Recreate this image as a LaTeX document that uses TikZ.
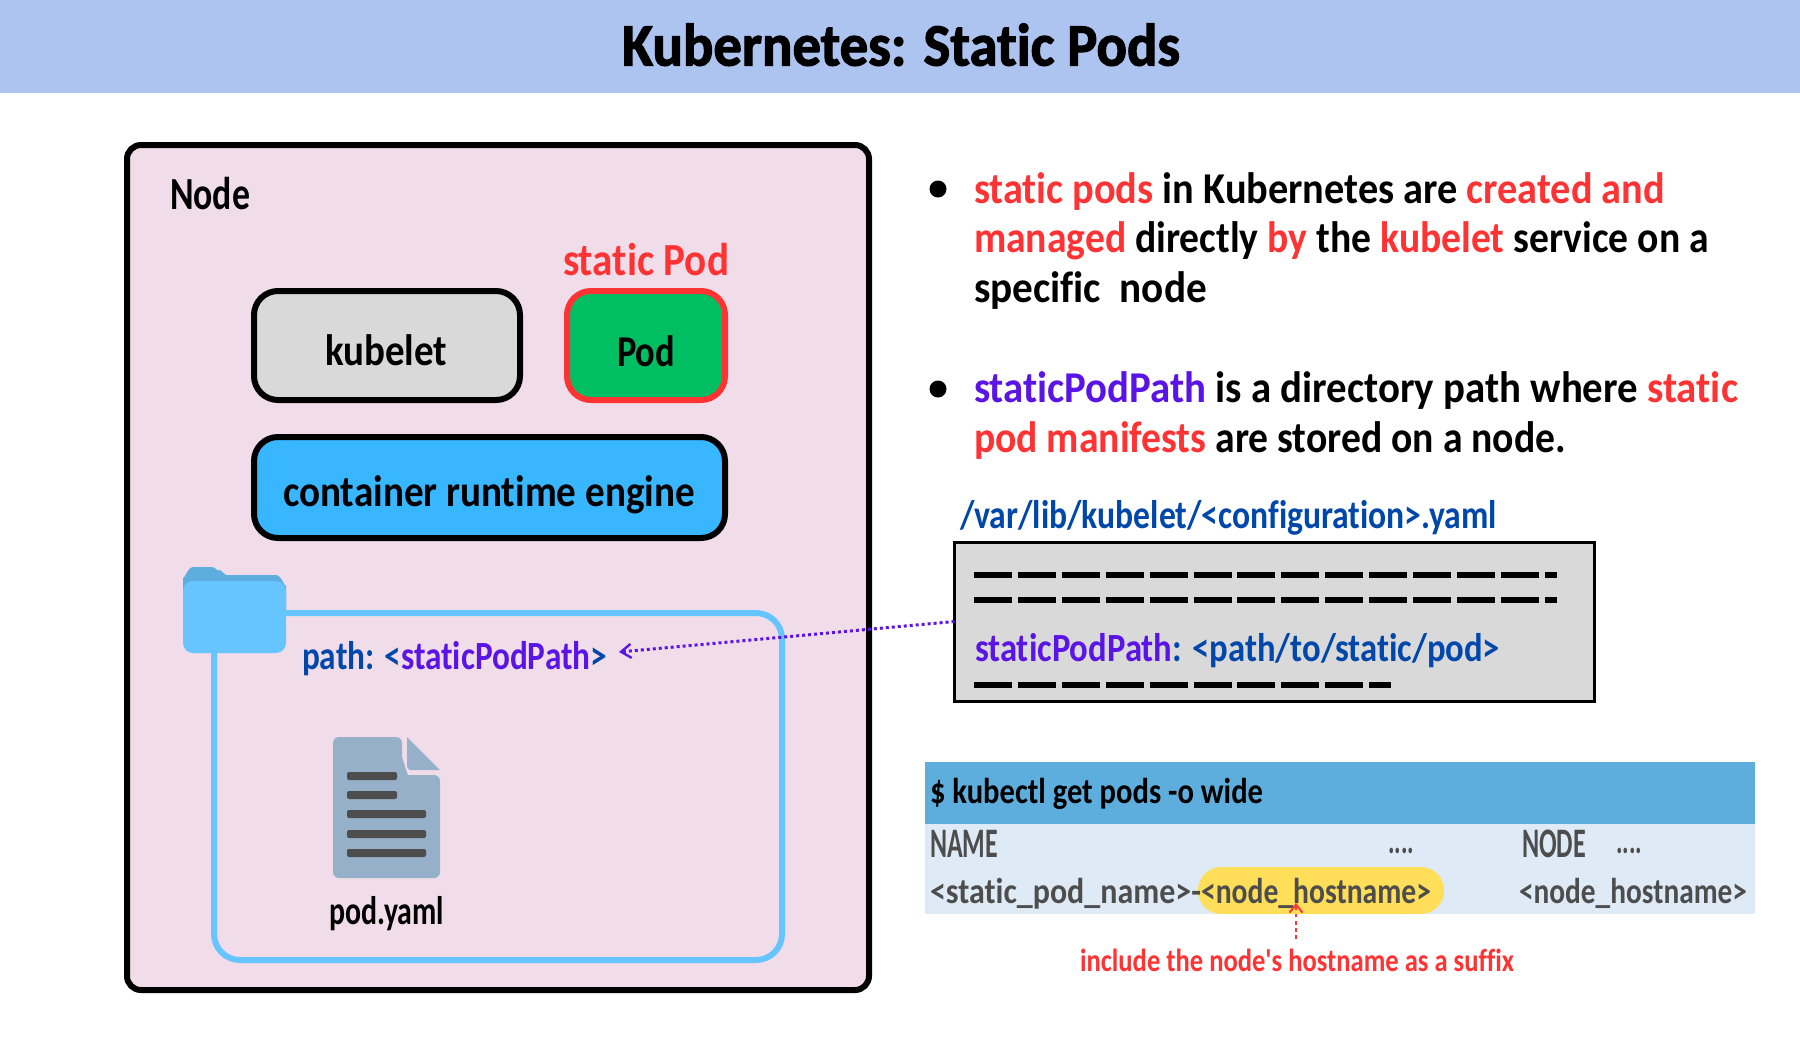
\documentclass[tikz,border=0pt]{standalone}
\usepackage{graphicx}
\usepackage{fontspec}
\setmainfont{Carlito}[BoldFont=Carlito Bold,Ligatures=NoCommon]
\newfontfamily\titlef{Carlito Bold}[FakeBold=2,Ligatures=NoCommon]
\usetikzlibrary{arrows.meta}
\definecolor{hdr}{HTML}{ADC4F0}
\definecolor{paper}{HTML}{F1DDEA}
\definecolor{redt}{HTML}{FF3333}
\definecolor{purp}{HTML}{5B14E6}
\definecolor{bluet}{HTML}{0047AB}
\definecolor{sky}{HTML}{66C5FF}
\definecolor{skyd}{HTML}{5DADDF}
\definecolor{gray1}{HTML}{D9D9D9}
\definecolor{green1}{HTML}{00BF63}
\definecolor{eng}{HTML}{38B6FF}
\definecolor{docb}{HTML}{97B0C9}
\definecolor{docl}{HTML}{4D4D4D}
\definecolor{tblh}{HTML}{5DADDD}
\definecolor{tblb}{HTML}{DEEBF7}
\definecolor{yel}{HTML}{FFDE59}
\definecolor{tgr}{HTML}{4D4D4D}
\newcommand{\fw}[2]{\resizebox{#1pt}{\height}{#2}}
\newcommand{\sz}[1]{\fontsize{#1}{#1}\selectfont\bfseries}
\newcommand{\rd}[1]{\textcolor{redt}{#1}}
\newcommand{\pu}[1]{\textcolor{purp}{#1}}
\newcommand{\bl}[1]{\textcolor{bluet}{#1}}
\tikzset{
  lbl/.style={anchor=base west,inner sep=0pt,outer sep=0pt,yshift=-1.25pt},
  rbox/.style={draw,line width=3pt,rounded corners=12pt,inner sep=0pt,outer sep=0pt},
  dashrow/.style={line width=3pt,dash pattern=on 19pt off 2.95pt},
  bul/.style={circle,fill=black,minimum size=8.5pt,inner sep=0pt}
}
\begin{document}
\begin{tikzpicture}[x=0.5pt,y=-0.5pt]
\useasboundingbox (0,0) rectangle (1800,1050);
\fill[white] (0,0) rectangle (1800,1050);
\fill[hdr] (0,0) rectangle (1800,93);
\node[lbl] (title) at (622,63) {\fw{279}{\titlef\fontsize{30}{30}\selectfont Kubernetes: Static Pods}};

% node box
\node[rbox,fill=paper,rounded corners=7pt,minimum width=371pt,minimum height=422.5pt] (nodebox) at (498,567.5) {};
\node[lbl] (nodelbl) at (170,207) {\fw{40}{\sz{23}Node}};
\node[lbl] (staticlbl) at (563,273) {\fw{83}{\sz{23}\rd{static Pod}}};
\node[rbox,fill=gray1,minimum width=133pt,minimum height=54.5pt] (kubelet) at (387,345.5) {};
\node[rbox,draw=redt,fill=green1,minimum width=79pt,minimum height=54.5pt] (pod) at (646,345.5) {};
\node[rbox,fill=eng,minimum width=235.5pt,minimum height=50.5pt] (engine) at (489.5,487.5) {};
\node[lbl] (kubelett) at (325,363) {\fw{61}{\sz{22}kubelet}};
\node[lbl] (podt) at (617,364) {\fw{29}{\sz{22}Pod}};
\node[lbl] (enginet) at (283,504) {\fw{206}{\sz{22}container runtime engine}};

% folder frame
\node[rbox,draw=sky,rounded corners=13pt,minimum width=284pt,minimum height=173.5pt] (frame) at (498,786.5) {};
\fill[skyd] (183,610) -- (183,577) to[out=-90,in=180] (193,567) -- (212,567) to[out=0,in=-135] (220,570) -- (226,575) -- (276,575) to[out=0,in=-90] (286,585) -- (286,610) -- cycle;
\fill[sky,rounded corners=5pt] (183,581) rectangle (286,653);
\node[lbl] (pathlbl) at (302,667) {\fw{152.5}{\sz{20}\bl{path: <}\pu{staticPodPath}\bl{>}}};
\coordinate (pathend) at (619,652);

% document
\fill[docb,rounded corners=3pt] (333,878) -- (333,737) -- (402,737) -- (402,763) to[out=90,in=180] (414,775) -- (440,775) -- (440,878) -- cycle;
\fill[docb] (407,737) -- (440,770) -- (410,770) to[out=180,in=90] (407,767) -- cycle;
\foreach \y/\x in {776/397,795/397,814/426,834/426,853/426}
  \fill[docl,rounded corners=1pt] (347,\y-4) rectangle (\x,\y+4);
\node[lbl] (yaml) at (329,922) {\fw{57.5}{\sz{20}pod.yaml}};

% bullets
\node[bul] (b1) at (938,189) {};
\node[bul] (b2) at (938,389) {};
\node[lbl] (l1) at (974,201) {\fw{345.5}{\sz{22}\rd{static pods} in Kubernetes are \rd{created and}}};
\node[lbl] (l2) at (974,250) {\fw{367.5}{\sz{22}\rd{managed} directly \rd{by} the \rd{kubelet} service on a}};
\node[lbl] (l3) at (974,300) {\fw{116.5}{\sz{22}specific\ \ node}};
\node[lbl] (l4) at (974,400) {\fw{382}{\sz{22}\pu{staticPodPath} is a directory path where \rd{static}}};
\node[lbl] (l5) at (974,450) {\fw{296}{\sz{22}\rd{pod manifests} are stored on a node.}};

% config box
\node[lbl] (cfgt) at (960,526) {\fw{268.5}{\sz{20}\bl{/var/lib/kubelet/<configuration>.yaml}}};
\node[draw,fill=gray1,line width=1.5pt,inner sep=0pt,outer sep=0pt,minimum width=320pt,minimum height=79.5pt] (cfg) at (1274.5,621.5) {};
\draw[dashrow] (974,574.5) -- (1557,574.5);
\draw[dashrow] (974,600) -- (1557,600);
\draw[dashrow] (974,685) -- (1391,685);
\node[lbl] (cfgl) at (975,659) {\fw{262.5}{\sz{20}\pu{staticPodPath}\bl{: <path/to/static/pod>}}};
\draw[purp,line width=1.5pt,dash pattern=on 1.5pt off 1.5pt,-{Straight Barb[length=5pt,width=7pt,line width=1.2pt]}] (cfg.west) -- (pathend);

% table
\fill[tblb] (925,824) rectangle (1755,914);
\fill[tblh] (925,762) rectangle (1755,824);
\fill[yel,rounded corners=11.5pt] (1198,867) rectangle (1444,914);
\node[lbl] (cmd) at (930,801) {\fw{166.5}{\sz{18}\$ kubectl get pods -o wide}};
\node[lbl] (name) at (930,855) {\fw{34}{\sz{21}\textcolor{tgr}{NAME}}};
\node[lbl] (d1) at (1388,851) {\fw{13}{\sz{19}\textcolor{tgr}{....}}};
\node[lbl] (nodeh) at (1522,855) {\fw{32}{\sz{21}\textcolor{tgr}{NODE}}};
\node[lbl] (d2) at (1616,851) {\fw{13}{\sz{19}\textcolor{tgr}{....}}};
\node[lbl] (spn) at (930,901) {\fw{135.5}{\sz{18}\textcolor{tgr}{<static\_pod\_name>-}}};
\node[lbl] (nh1) at (1201,901) {\fw{115}{\sz{18}\textcolor{tgr}{<node\_hostname>}}};
\node[lbl] (nh2) at (1519,901) {\fw{114}{\sz{18}\textcolor{tgr}{<node\_hostname>}}};
\node[lbl] (cap) at (1080,969) {\fw{217}{\sz{16}\rd{include the node\textquotesingle s hostname as a suffix}}};
\coordinate (capup) at (1296,939);
\coordinate (hostpt) at (1296,903);
\draw[redt,line width=1.25pt,dash pattern=on 1.8pt off 1.8pt,-{Straight Barb[length=4pt,width=6.5pt,line width=1pt]}] (capup) -- (hostpt);
\end{tikzpicture}
\end{document}
